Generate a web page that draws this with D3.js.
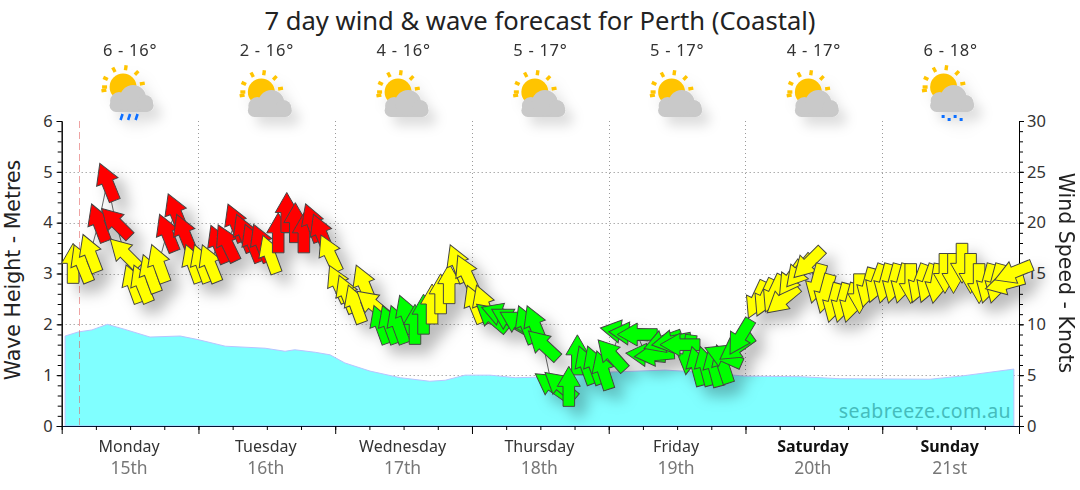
<!DOCTYPE html>
<html>
<head>
<meta charset="utf-8">
<script src="https://cdn.jsdelivr.net/npm/d3@7/dist/d3.min.js"></script>
<style>
html,body{margin:0;padding:0;background:#fff}
svg{display:block}
text{font-family:"Noto Sans","Open Sans",sans-serif}
</style>
</head>
<body>
<svg id="chart" width="1080" height="490"></svg>
<script>
// Forecast title and per-day labels
const chartTitle = "7 day wind & wave forecast for Perth (Coastal)";
const dayNames = ["Monday","Tuesday","Wednesday","Thursday","Friday","Saturday","Sunday"];
const dayDates = ["15th","16th","17th","18th","19th","20th","21st"];
const dayTemps = ["6 - 16°","2 - 16°","4 - 16°","5 - 17°","5 - 17°","4 - 17°","6 - 18°"];
const dayIcons = ["rain","cloud","cloud","cloud","cloud","cloud","shower"];
const weekendDays = ["Saturday","Sunday"];
const heightTicks = [0,1,2,3,4,5,6];
const speedTicks = [0,5,10,15,20,25,30];

// Swell height: hours since Monday 00:00, metres
const waveHour = [0.6,2.9,5.3,8,11.1,15.5,20.8,23.9,28.7,35.7,39.2,40.9,44.5,47.1,49.7,54.1,59.4,64.6,67.3,70.8,75.2,79.6,87.5,96.2,105.9,112,119.9,129.6,136.6,152.4,157.7,167.1];
const waveMetres = [1.77,1.85,1.89,2.0,1.9,1.75,1.77,1.7,1.57,1.53,1.47,1.5,1.45,1.4,1.24,1.08,.95,.88,.9,1.0,1.0,.95,.97,1.06,1.1,1.06,.98,.97,.93,.92,.98,1.12];

// Wind forecast: hour since Monday 00:00, speed in knots, heading of the arrow in degrees.
const windHour = [2,3.5,5,6.5,8,9.5,11,12.5,14,15.5,17,18.5,20,21.5,23,24.5,26,27.5,29,30.5,32,33.5,35,36.5,38,39.5,41,42.5,44,45.5,47,48.5,50,51.5,53,54.5,
  56,57.5,59,60.5,62,63.5,65,66.5,68,69.5,71,72.5,74,75.5,77,78.5,80,81.5,83,84.5,86,87.5,90.5,92,93.5,95,96.5,89,
  98,99.5,101,102.5,104,105.5,107,110,108.5,111.5,113,114.5,116,116.1,118.4,119.1,
  122,123.5,125,126.5,128,129.5,131,132.5,134,135.5,137,138.5,140,141.5,143,144.5,146,147.5,149,150.5,152,153.5,155,156.5,158,159.5,161,162.5,164,165.5,167];
const windKnots = [16,16,17,20,24,20,17,14,14,15,16,19,21,19,16,16,16,17.9,18,20,19,18,18,16.9,19,21,20,19,20,19,17,14,13,12,14,12,
  10,10,10,11,10,11,12,13,14,16,15,12,12,10.7,11,10.5,10.2,10,10,8,4,4,7,6,6,5.5,7,3.9,
  9.3,9.1,9,7,7,8.3,8.3,7,8,5.9,5.9,5.8,6.1,6.9,7.7,8.75,
  12.4,12.6,13,12.4,14.5,15.2,16,14,13,12.1,12.1,12.1,13,13.6,14,14,14,14,14,14,14,14,15,15,16,15,14,14,14,14,15.1];
const windHeading = [0,-22,-21,-21,-22,-45,-45,-20,-22,-20,-20,-22,-22,-22,-20,-20,-22,-22,-26,-22,-22,-22,-22,-20,0,0,0,0,-20,-22,-25,-25,-22,-20,-22,-50,
  -20,-20,-20,-20,0,0,0,0,0,-22,-25,-22,-20,-50,-70,-60,-60,-22,-22,-47,-55,-50,0,-20,-20,-18,-42,0,
  -80,-85,-90,-85,-95,-110,-100,-172,-90,-15,-15,-15,-18,-66,-125,-149,
  -155,-155,-155,-130,-145,-140,-135,-165,-165,-165,-165,-165,180,-165,-160,-165,-165,-165,180,-160,-160,-170,180,180,180,180,180,-165,-165,-105,-112];

const nowHour = 3;
const hoursPerDay = 24;

const svg = d3.select("#chart");
const margin = {left:61.7, right:1019, top:121, bottom:426};

const x = d3.scaleLinear().domain([0,168]).range([margin.left, margin.right]);
const yHeight = d3.scaleLinear().domain([0,6]).range([margin.bottom, margin.top]);
const ySpeed = d3.scaleLinear().domain([0,30]).range([margin.bottom, margin.top]);

const defs = svg.append("defs");
const shadow = defs.append("filter").attr("id","dropShade")
  .attr("x","-20%").attr("y","-20%").attr("width","150%").attr("height","160%");
shadow.append("feDropShadow").attr("dx",10).attr("dy",10).attr("stdDeviation",7)
  .attr("flood-color","#000").attr("flood-opacity",0.26);
const iconShade = defs.append("filter").attr("id","iconShade")
  .attr("x","-30%").attr("y","-30%").attr("width","180%").attr("height","180%");
iconShade.append("feDropShadow").attr("dx",8).attr("dy",9).attr("stdDeviation",6)
  .attr("flood-color","#000").attr("flood-opacity",0.13);

// Dotted grid
const grid = svg.append("g");
heightTicks.slice(1,-1).forEach(v=>{
  grid.append("line").attr("x1",margin.left).attr("x2",margin.right)
    .attr("y1",Math.round(yHeight(v))+.5).attr("y2",Math.round(yHeight(v))+.5);
});
d3.range(1,7).forEach(d=>{
  grid.append("line").attr("x1",Math.round(x(d*hoursPerDay))+.5).attr("x2",Math.round(x(d*hoursPerDay))+.5)
    .attr("y1",margin.top).attr("y2",margin.bottom);
});
grid.selectAll("line").attr("stroke","#9a9a9a").attr("stroke-width",1).attr("stroke-dasharray","1,3");

// Swell area
const wavePoints = waveHour.map((h,i)=>[h,waveMetres[i]]);
svg.append("path").datum(wavePoints)
  .attr("d",d3.area().x(d=>x(d[0])).y0(margin.bottom).y1(d=>yHeight(d[1])))
  .attr("fill","#80ffff").attr("stroke","#b8c4ff").attr("stroke-width",1);

// Grid remains faintly visible through the water
grid.clone(true).attr("opacity",.45);

// Current-time marker
svg.append("line").attr("x1",Math.round(x(nowHour))+.5).attr("x2",Math.round(x(nowHour))+.5)
  .attr("y1",margin.top).attr("y2",margin.bottom)
  .attr("stroke","rgba(225,90,90,.55)").attr("stroke-dasharray","7,4");

svg.append("text").attr("x",1011).attr("y",418).attr("text-anchor","end")
  .attr("font-size",19.5).attr("fill","#45bcbc").attr("letter-spacing",.4).text("seabreeze.com.au");

// Axes: minor and major ticks drawn as two layers
function tickStyle(g){ g.selectAll("text").remove(); g.select(".domain").attr("stroke","#000"); g.selectAll("line").attr("stroke","#000"); }
svg.append("g").attr("transform",`translate(${margin.left},0)`)
  .call(d3.axisLeft(ySpeed).tickValues(d3.range(0,31)).tickSizeInner(4).tickSizeOuter(0)).call(tickStyle);
svg.append("g").attr("transform",`translate(${margin.right},0)`)
  .call(d3.axisRight(ySpeed).tickValues(d3.range(0,31)).tickSizeInner(4).tickSizeOuter(0)).call(tickStyle);

const leftAxis = svg.append("g").attr("transform",`translate(${margin.left},0)`)
  .call(d3.axisLeft(yHeight).tickValues(heightTicks).tickFormat(d3.format("d")).tickSize(5).tickPadding(4));
const rightAxis = svg.append("g").attr("transform",`translate(${margin.right},0)`)
  .call(d3.axisRight(ySpeed).tickValues(speedTicks).tickSize(5).tickPadding(3));
[leftAxis,rightAxis].forEach(g=>{
  g.select(".domain").attr("stroke","#000");
  g.selectAll("line").attr("stroke","#000");
  g.selectAll("text").attr("font-size",16.5).attr("fill","#333").attr("font-family",'"Noto Sans",sans-serif');
});

svg.append("g").attr("transform",`translate(0,${margin.bottom})`)
  .call(d3.axisBottom(x).tickValues(d3.range(0,169,6)).tickSize(4).tickSizeOuter(0)).call(g=>{
    g.selectAll("text").remove(); g.select(".domain").attr("stroke","#001133").attr("stroke-width",1.2);
    g.selectAll("line").attr("stroke","#000");
  });
svg.append("g").attr("transform",`translate(0,${margin.bottom})`)
  .call(d3.axisBottom(x).tickValues(d3.range(0,169,24)).tickSize(8).tickSizeOuter(0)).call(g=>{
    g.selectAll("text").remove(); g.select(".domain").remove();
    g.selectAll("line").attr("stroke","#000");
  });

// Wind track and arrows
const windOrder = d3.range(windHour.length);
const track = windOrder.slice().sort((a,b)=>windHour[a]-windHour[b]);
svg.append("path").datum(track)
  .attr("d",d3.line().x(i=>x(windHour[i])).y(i=>ySpeed(windKnots[i])))
  .attr("fill","none").attr("stroke","#666").attr("stroke-width",1);

const arrowPath = "M0,-20 L11.5,0 L5.8,0 L5.8,20 L-5.8,20 L-5.8,0 L-11.5,0 Z";
const windColour = d3.scaleThreshold().domain([11.5,17.5]).range(["#00ff00","#ffff00","#ff0000"]);
svg.append("g").attr("filter","url(#dropShade)")
  .selectAll("path").data(windOrder).join("path")
  .attr("d",arrowPath)
  .attr("transform",i=>`translate(${x(windHour[i])},${ySpeed(windKnots[i])}) rotate(${windHeading[i]})`)
  .attr("fill",i=>windColour(windKnots[i]))
  .attr("stroke","#444").attr("stroke-width",1).attr("stroke-linejoin","miter");

// Sun behind a cloud, with optional rain streaks or drizzle dots
function drawIcon(cx, kind){
  const wet = kind!=="cloud";
  const ox = wet ? cx-7 : cx-5.5;
  const oy = wet ? 87 : 92;
  const g = svg.append("g").attr("transform",`translate(${ox},${oy})`).attr("filter","url(#iconShade)");
  d3.range(-100,160,36).forEach(a=>{
    const r = a*Math.PI/180;
    g.append("rect").attr("x",-2).attr("y",-1.7).attr("width",5).attr("height",3.4).attr("fill","#ffc400")
      .attr("transform",`translate(${19*Math.sin(r)},${-19*Math.cos(r)}) rotate(${a-90})`);
  });
  g.append("rect").attr("x",-2).attr("y",-1.7).attr("width",5).attr("height",3.4).attr("fill","#ffc400").attr("transform","translate(-19,0)");
  g.append("circle").attr("r",13.5).attr("fill","#ffc400");
  const c = g.append("g").attr("fill","#c9c9c9");
  c.append("rect").attr("x",-13.5).attr("y",12).attr("width",44).attr("height",13).attr("rx",6.5);
  c.append("circle").attr("cx",-4).attr("cy",14).attr("r",9);
  c.append("circle").attr("cx",10).attr("cy",11).attr("r",13);
  c.append("circle").attr("cx",22).attr("cy",16).attr("r",8);
  if(kind==="rain") [0,7.5,15].forEach(dx=>{
    g.append("line").attr("x1",-0.5+dx).attr("y1",27).attr("x2",-2.5+dx).attr("y2",33)
      .attr("stroke","#0a6eff").attr("stroke-width",2.6);
  });
  if(kind==="shower") [[-2,28],[4,31],[10,28],[16,31]].forEach(p=>{
    g.append("rect").attr("x",p[0]).attr("y",p[1]).attr("width",3).attr("height",3).attr("fill","#0a6eff");
  });
}

// Day labels
dayNames.forEach((name,d)=>{
  const cx = x((d+.5)*hoursPerDay);
  svg.append("text").attr("x",cx-1).attr("y",452).attr("text-anchor","middle").attr("font-size",16)
    .attr("fill",weekendDays.includes(name)?"#111":"#333")
    .attr("font-weight",weekendDays.includes(name)?"bold":"normal").text(name);
  svg.append("text").attr("x",cx-1).attr("y",474).attr("text-anchor","middle").attr("font-size",17.5)
    .attr("fill","#777").text(dayDates[d]);
  svg.append("text").attr("x",cx).attr("y",56).attr("text-anchor","middle").attr("font-size",16.5)
    .attr("fill","#333").attr("letter-spacing",.7).text(dayTemps[d]);
  drawIcon(cx, dayIcons[d]);
});

// Titles
svg.append("text").attr("x",540).attr("y",30).attr("text-anchor","middle").attr("font-size",25.6).attr("fill","#222").text(chartTitle);
svg.append("text").attr("transform","translate(20,270) rotate(-90)").attr("text-anchor","middle").attr("font-size",20.5).attr("fill","#222")
  .style("font-family","'DejaVu Sans'").text("Wave Height - Metres");
svg.append("text").attr("transform","translate(1059,273) rotate(90)").attr("text-anchor","middle").attr("font-size",20.5).attr("fill","#222")
  .style("font-family","'DejaVu Sans'").text("Wind Speed - Knots");
</script>
</body>
</html>
